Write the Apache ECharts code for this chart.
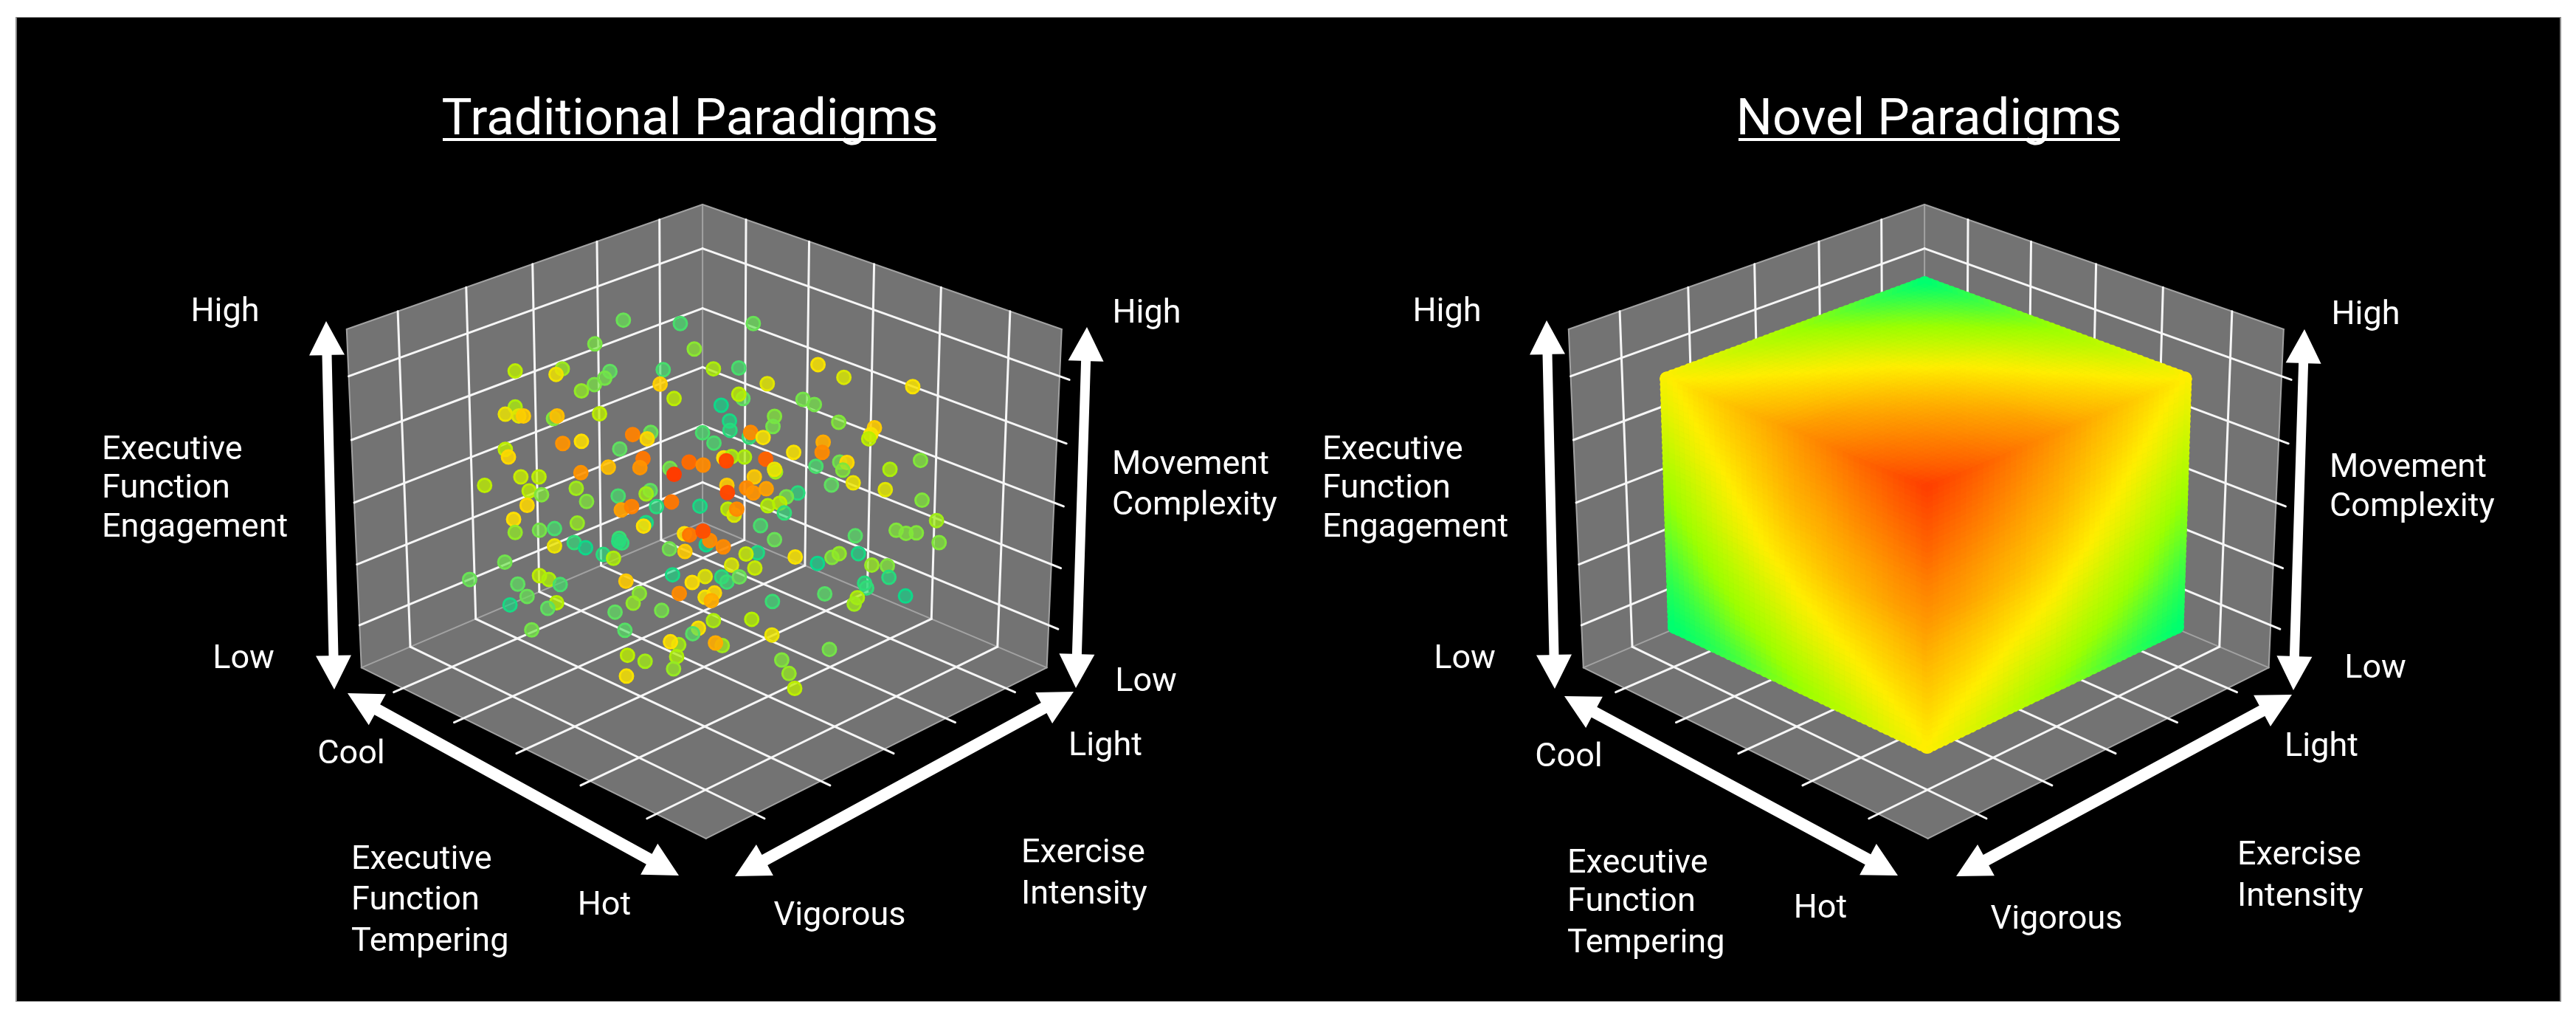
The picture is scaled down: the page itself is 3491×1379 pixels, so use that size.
<!DOCTYPE html>
<html>
<head>
<meta charset="utf-8">
<style>html,body{margin:0;padding:0;background:#fff}#chart{width:3491px;height:1379px}</style>
<script src="https://cdn.jsdelivr.net/npm/echarts@6/dist/echarts.min.js"></script>
</head>
<body>
<div id="chart"></div>
<script>
// ---------- text ----------
const panelTitles = ['Traditional Paradigms', 'Novel Paradigms'];
const axisTexts = ['High', 'Low', 'High', 'Low', 'Cool', 'Hot', 'Vigorous', 'Light'];
const axisNames = [
  ['Executive', 'Function', 'Engagement'],
  ['Movement', 'Complexity'],
  ['Executive', 'Function', 'Tempering'],
  ['Exercise', 'Intensity']
];
// ---------- axis ticks, as fractions of each box edge ----------
const boxTicks = [0.13, 0.314, 0.498, 0.682, 0.866];
// ---------- Traditional Paradigms: [screen x, screen y, score] ----------
const paradigmPoints = [
[634,320,22],[744,328,15],[885,328,22],[771,388,30],[579,376,26],[425,440,42],[516,435,34],[504,448,56],
[608,441,20],[598,457,25],[578,472,26],[553,487,32],[711,437,15],[808,435,38],[857,433,15],[705,471,64],
[732,505,42],[912,470,52],[1010,425,58],[1060,455,50],[1193,477,58],[865,505,20],[857,495,42],[981,507,25],
[1003,519,25],[823,521,3],[425,525,38],[406,542,55],[432,546,52],[499,552,28],[441,546,65],[506,546,68],
[588,541,42],[926,547,28],[839,558,5],[1050,561,28],[840,580,8],[923,571,25],[877,596,10],[880,585,80],
[904,597,58],[687,585,22],[652,590,82],[680,600,62],[787,586,15],[809,610,15],[1119,574,65],[1112,590,58],
[1108,600,42],[517,611,78],[553,606,60],[1020,608,72],[627,624,20],[963,632,58],[1018,632,80],[406,625,42],
[412,643,62],[672,647,85],[666,668,78],[724,670,25],[605,667,68],[761,655,88],[788,662,80],[732,684,100],
[828,645,60],[843,642,38],[833,652,97],[868,643,38],[909,648,90],[1052,655,24],[1066,656,62],[1006,665,15],
[1058,674,28],[1149,672,38],[1208,651,28],[552,680,78],[436,690,45],[471,690,42],[366,710,42],[928,678,35],
[926,672,55],[887,690,65],[1078,704,55],[1036,709,20],[1140,720,52],[834,710,65],[872,716,80],[885,728,78],
[910,718,75],[835,727,97],[452,723,42],[476,732,28],[543,717,35],[686,722,20],[678,730,35],[624,735,15],
[971,728,8],[949,737,25],[936,752,42],[913,758,40],[727,749,85],[563,748,28],[448,757,62],[698,760,8],
[630,768,75],[650,760,82],[782,759,5],[836,766,42],[848,780,50],[853,766,80],[945,775,10],[1211,745,28],
[1239,793,35],[422,790,60],[425,821,32],[545,799,33],[472,816,25],[501,812,15],[678,798,5],[673,806,60],
[899,805,15],[1161,816,28],[1180,823,28],[1200,822,28],[1082,829,18],[1244,845,28],[794,850,3],[752,824,60],
[762,827,85],[801,840,80],[788,818,95],[827,855,80],[926,838,22],[539,845,10],[561,857,3],[626,835,12],
[631,846,10],[625,842,8],[501,853,55],[723,860,24],[753,866,65],[595,873,8],[615,882,38],[893,869,6],
[871,872,45],[966,879,58],[1009,894,2],[1037,880,28],[1051,871,32],[1088,871,5],[843,898,50],[888,905,45],
[405,891,24],[1114,898,33],[1144,900,28],[729,921,5],[792,925,52],[767,939,60],[824,926,8],[834,938,12],
[858,926,22],[639,936,65],[472,923,42],[490,932,38],[512,944,15],[430,943,20],[337,932,22],[1147,927,8],
[1100,941,8],[1104,952,10],[1179,971,3],[922,984,12],[742,965,80],[810,964,62],[792,974,58],[804,982,72],
[665,965,30],[653,988,32],[448,972,22],[415,992,5],[505,987,40],[488,1000,20],[1023,966,18],[1086,975,38],
[1080,990,35],[618,1009,20],[708,1005,25],[882,1026,40],[808,1029,38],[637,1052,18],[457,1051,25],[779,1047,58],
[768,1060,18],[921,1063,55],[741,1086,36],[725,1079,60],[825,1088,35],[812,1082,72],[1032,1097,25],[642,1111,42],
[676,1125,36],[737,1114,38],[731,1143,33],[940,1122,28],[954,1154,33],[640,1160,58],[965,1189,42]
];
// ---------- Novel Paradigms: extent of the filled block, and score read at nodes of each visible face ----------
const blockRangeA = [0.05, 0.79];
const blockRangeB = [0.05, 0.79];
const blockRangeC = [0.05, 0.795];
const topFaceScores = [
[100,93,87,81,75,68,62,56,50],[93,88,83,77,72,64,58,51,44],[87,83,78,73,67,60,53,46,37],
[81,77,73,68,62,55,48,39,31],[75,72,67,62,56,50,42,33,25],[68,64,60,55,50,42,34,26,19],
[62,58,53,48,42,34,27,20,12],[56,51,46,39,33,26,20,13,6],[50,44,37,31,25,19,12,6,0]
];
const leftFaceScores = [
[100,94,88,81,74,68,62,56,49],[94,89,83,77,71,64,58,51,44],[88,83,78,72,67,60,53,46,37],
[81,77,72,67,62,55,48,39,30],[75,72,67,62,56,50,42,33,24],[69,64,60,55,50,42,34,26,18],
[62,58,53,48,42,34,27,20,11],[56,51,46,39,33,26,20,12,5],[50,44,37,30,24,18,11,5,0]
];
const rightFaceScores = [
[100,94,88,81,75,68,62,56,50],[94,89,83,77,71,64,58,51,44],[88,83,78,72,67,60,53,46,37],
[81,77,72,67,62,55,48,39,31],[75,72,67,62,56,50,42,33,24],[68,64,60,55,50,42,34,26,18],
[62,58,53,48,42,34,27,20,11],[56,51,46,39,33,26,20,12,5],[50,44,37,31,24,18,11,5,0]
];
// ---------- colour scales ----------
const blockColors = ['#00ff6e', '#9dff00', '#ffee00', '#ff9500', '#ff3c00'];
const pointColors = ['#00d890', '#5fe060', '#b4f000', '#ffe000', '#ff8a00', '#ff3c00'];

// ---------- layout (reference pixels) ----------
const PANEL_OFFSET = 1656;
const UNIT_X = 1100 / 1568, UNIT_Y = 900 / 1568, ORIGIN_X = 400, ORIGIN_Y = 250;
const GRID_W = 1700, GRID_H = 1379;
const box = { O: [787, 797], L: [128, 1140], R: [1452, 1140], T: [787, 47], wAB: -0.075, wC: -0.0384, over: 0.025 };
const FS = 45;
const TEXT_DY = 5;
const textLayout = [
  // per panel: High, Low, High, Low, Cool, Hot, Vigorous, Light
  [[305,419],[330,889],[1554,421],[1553,920],[476,1018],[819,1223],[1138,1237],[1498,1007]],
  [[1961,419],[1985,889],[3206,423],[3219,902],[2126,1022],[2467,1227],[2787,1242],[3146,1008]]
];
const nameLayout = [
  [[138,[606,658,711]],[1507,[626,681]],[476,[1161,1216,1272]],[1384,[1152,1208]]],
  [[1792,[606,658,711]],[3157,[630,683]],[2124,[1166,1218,1274]],[3032,[1155,1211]]]
];
const titleLayout = [[935,165,600,1269],[2614,165,2356,2873]];
const arrowLayout = [
  [[442,435,453,934],[1473,443,1458,932],[471,939,920,1186],[1455,937,996,1187]],
  [[2096,434,2107,933],[3123,446,3108,935],[2120,943,2572,1186],[3106,941,2651,1187]]
];

// ---------- projection of the box, fractions -> plot units ----------
function project(a, b, c) {
  const d = 1 + box.wAB * (a + b) + box.wC * c;
  const q = (p, i, w) => p[i] * (1 + w) - box.O[i];
  const x = box.O[0] + a * q(box.L, 0, box.wAB) + b * q(box.R, 0, box.wAB) + c * q(box.T, 0, box.wC);
  const y = box.O[1] + a * q(box.L, 1, box.wAB) + b * q(box.R, 1, box.wAB) + c * q(box.T, 1, box.wC);
  return [x / d, y / d];
}

// box walls and grid lines as items in fraction space
const walls = [
  [[0,0,0],[1,0,0],[1,0,1],[0,0,1]],
  [[0,0,0],[0,1,0],[0,1,1],[0,0,1]],
  [[0,0,0],[1,0,0],[1,1,0],[0,1,0]]
];
const gridSegs = [];
boxTicks.forEach(t => {
  gridSegs.push([[0,0,t],[1,0,t]], [[0,0,t],[0,1+box.over,t]]);
  gridSegs.push([[t,0,0],[t,0,1]], [[0,t,0],[0,t,1]]);
  gridSegs.push([[t,0,0],[t,1+box.over,0]], [[0,t,0],[1+box.over,t,0]]);
});
const edgeSegs = [
  [[1,0,1],[0,0,1]], [[0,1,1],[0,0,1]], [[0,0,0],[0,0,1]],
  [[1,0,0],[1,0,1]], [[0,1,0],[0,1,1]],
  [[0,0,0],[1,0,0]], [[0,0,0],[0,1,0]], [[1,0,0],[1,1,0]], [[0,1,0],[1,1,0]]
];

function boxSeries(idx) {
  const items = [...walls.map(w => ({ wall: w })), ...edgeSegs.map(s => ({ edge: s })), ...gridSegs.map(s => ({ seg: s }))];
  return {
    type: 'custom', xAxisIndex: idx, yAxisIndex: idx, coordinateSystem: 'cartesian2d', silent: true, z: 1,
    data: items.map((_, i) => [i, i]),
    renderItem(params, api) {
      const it = items[params.dataIndex];
      const pt = p => api.coord(project(p[0], p[1], p[2]));
      if (it.wall) return { type: 'polygon', shape: { points: it.wall.map(pt) }, style: { fill: '#737373' } };
      const s = it.edge || it.seg;
      const a = pt(s[0]), b = pt(s[1]);
      return { type: 'line', shape: { x1: a[0], y1: a[1], x2: b[0], y2: b[1] },
        style: { stroke: it.edge ? '#a2a2a2' : '#f6f6f6', lineWidth: it.edge ? 2 : 3, lineCap: 'round' } };
    }
  };
}

// scale helpers
const blockColor = s => echarts.color.lerp(Math.max(0, Math.min(1, s / 100)), blockColors);
const pointColor = s => echarts.color.lerp(s / 100, pointColors);

// filled block of the Novel panel
const A = blockRangeA, B = blockRangeB, C = blockRangeC;
const faces = [
  { scores: topFaceScores,   at: (u, v) => [A[1] + (A[0]-A[1])*u, B[1] + (B[0]-B[1])*v, C[1]] },
  { scores: leftFaceScores,  at: (u, v) => [A[1], B[1] + (B[0]-B[1])*u, C[1] + (C[0]-C[1])*v] },
  { scores: rightFaceScores, at: (u, v) => [A[1] + (A[0]-A[1])*u, B[1], C[1] + (C[0]-C[1])*v] }
];
const N = 8, SUB = 6, EDGE_STEP = 1, BUMP = 10;
const shade = (f, x, y) => { // x,y in node units; shading inside one cell of read values
  const t = faces[f].scores;
  const i = Math.min(N - 1, Math.floor(x)), j = Math.min(N - 1, Math.floor(y));
  const fx = x - i, fy = y - j;
  return (t[j][i]*(1-fx) + t[j][i+1]*fx)*(1-fy) + (t[j+1][i]*(1-fx) + t[j+1][i+1]*fx)*fy;
};
const blockItems = [];
faces.forEach((_, f) => {
  for (let k = 0; k <= N * SUB; k += EDGE_STEP) {
    blockItems.push({ f, bump: [k / SUB, N] }, { f, bump: [N, k / SUB] });
  }
});
faces.forEach((_, f) => { for (let j = 0; j < N; j++) for (let i = 0; i < N; i++) blockItems.push({ f, cell: [i, j] }); });

const blockSeries = {
  type: 'custom', xAxisIndex: 1, yAxisIndex: 1, coordinateSystem: 'cartesian2d', silent: true, z: 3,
  data: blockItems.map((_, i) => [i, i]),
  renderItem(params, api) {
    const it = blockItems[params.dataIndex];
    const face = faces[it.f];
    const pos = (x, y) => { const p = face.at(x / N, y / N); return api.coord(project(p[0], p[1], p[2])); };
    if (it.bump) {
      const c = pos(it.bump[0], it.bump[1]);
      return { type: 'circle', shape: { cx: c[0], cy: c[1], r: BUMP }, style: { fill: blockColor(shade(it.f, it.bump[0], it.bump[1])) } };
    }
    const children = [];
    for (let m = 0; m < SUB; m++) for (let n = 0; n < SUB; n++) {
      const x0 = it.cell[0] + n / SUB, x1 = it.cell[0] + (n + 1) / SUB;
      const y0 = it.cell[1] + m / SUB, y1 = it.cell[1] + (m + 1) / SUB;
      const col = blockColor(shade(it.f, (x0 + x1) / 2, (y0 + y1) / 2));
      children.push({ type: 'polygon', shape: { points: [pos(x0, y0), pos(x1, y0), pos(x1, y1), pos(x0, y1)] },
        style: { fill: col, stroke: col, lineWidth: 1 } });
    }
    return { type: 'group', children };
  }
};

const pointSeries = {
  type: 'scatter', xAxisIndex: 0, yAxisIndex: 0, symbolSize: 18, z: 3, silent: true,
  data: paradigmPoints.map(p => {
    const col = pointColor(p[2]);
    return { value: p, itemStyle: {
      color: echarts.color.modifyAlpha(col, 0.62 + 0.38 * p[2] / 100),
      borderColor: col, borderWidth: 3, opacity: 1 } };
  })
};

// annotation graphics
const g = [];
g.push({ type: 'rect', z: -2, silent: true, shape: { x: 21, y: 23, width: 3450, height: 1334 }, style: { fill: '#8a8a8a' } });
g.push({ type: 'rect', z: -1, silent: true, shape: { x: 23, y: 24, width: 3446, height: 1332 }, style: { fill: '#000' } });
const txt = (text, x, y, size, align) => ({ type: 'text', silent: true, z: 10,
  style: { text, x, y, fill: '#fff', font: size + 'px Roboto, sans-serif', textAlign: align, textVerticalAlign: 'middle', align, verticalAlign: 'middle' } });
function arrowPoints(x1, y1, x2, y2, S) {
  const len = Math.hypot(x2 - x1, y2 - y1), ux = (x2 - x1) / len, uy = (y2 - y1) / len, nx = -uy, ny = ux;
  const H = 24, HL = 46;
  const p = (d, s) => [x1 + ux * d + nx * s, y1 + uy * d + ny * s];
  return [p(0,0), p(HL,H), p(HL,S), p(len-HL,S), p(len-HL,H), p(len,0), p(len-HL,-H), p(len-HL,-S), p(HL,-S), p(HL,-H)];
}
[0, 1].forEach(k => {
  const t = titleLayout[k];
  g.push(txt(panelTitles[k], t[0], t[1], 69, 'center'));
  g.push({ type: 'rect', silent: true, z: 10, shape: { x: t[2], y: 187, width: t[3] - t[2], height: 4 }, style: { fill: '#fff' } });
  axisTexts.forEach((s, i) => g.push(txt(s, textLayout[k][i][0], textLayout[k][i][1] + TEXT_DY, FS, 'center')));
  axisNames.forEach((lines, i) => lines.forEach((s, j) => g.push(txt(s, nameLayout[k][i][0], nameLayout[k][i][1][j] + TEXT_DY, FS, 'left'))));
  arrowLayout[k].forEach((a, i) => g.push({ type: 'polygon', silent: true, z: 10, shape: { points: arrowPoints(a[0], a[1], a[2], a[3], i < 2 ? 6.5 : 8) }, style: { fill: '#fff' } }));
});

const axisX = { type: 'value', show: false, min: -ORIGIN_X / UNIT_X, max: (GRID_W - ORIGIN_X) / UNIT_X, splitLine: { show: false } };
const axisY = { type: 'value', show: false, inverse: true, min: -ORIGIN_Y / UNIT_Y, max: (GRID_H - ORIGIN_Y) / UNIT_Y, splitLine: { show: false } };

const chart = echarts.init(document.getElementById('chart'), null, { renderer: 'canvas' });
chart.setOption({
  animation: false,
  backgroundColor: '#fff',
  tooltip: { show: false },
  grid: [
    { left: 0, top: 0, width: GRID_W, height: GRID_H },
    { left: PANEL_OFFSET, top: 0, width: GRID_W, height: GRID_H }
  ],
  xAxis: [Object.assign({ gridIndex: 0 }, axisX), Object.assign({ gridIndex: 1 }, axisX)],
  yAxis: [Object.assign({ gridIndex: 0 }, axisY), Object.assign({ gridIndex: 1 }, axisY)],
  graphic: { elements: g },
  series: [boxSeries(0), boxSeries(1), pointSeries, blockSeries]
});
</script>
</body>
</html>
